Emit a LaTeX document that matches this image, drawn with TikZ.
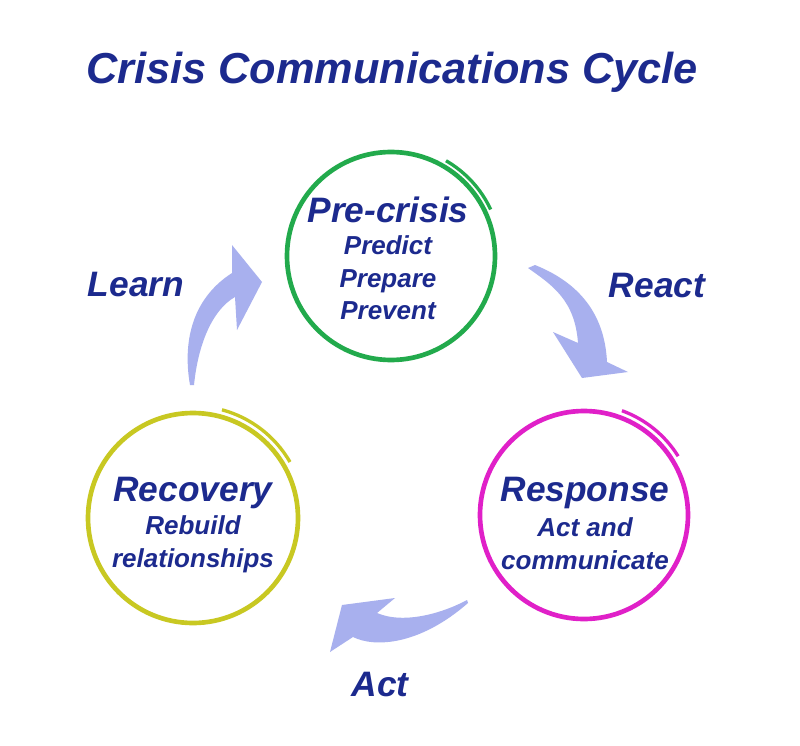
\documentclass[tikz,border=0pt]{standalone}
\usepackage{fontspec}
\usetikzlibrary{calc}
\setmainfont{Liberation Sans}
\begin{document}
\begin{tikzpicture}[x=0.75pt,y=-0.75pt,
  txt/.style={text=tblue,font=\bfseries\itshape,align=center,inner sep=0},
  big/.style={txt,font=\fontsize{26.5}{30}\selectfont\bfseries\itshape},
  small/.style={txt,font=\fontsize{19.5}{24.5}\selectfont\bfseries\itshape},
  ring/.style={line width=3.5pt},
  arr/.style={fill=arrc,draw=none}]
\definecolor{tblue}{HTML}{1C2A8E}
\definecolor{cgreen}{HTML}{22AA4C}
\definecolor{cmag}{HTML}{E020C8}
\definecolor{cyel}{HTML}{C8C822}
\definecolor{arrc}{HTML}{A8B0EE}
\useasboundingbox (0,0) rectangle (800,746);
\fill[white] (0,0) rectangle (800,746);
\node[txt,font=\fontsize{32.5}{38}\selectfont\bfseries\itshape] (title) at (392,72) {Crisis Communications Cycle};
% rings
\coordinate (cg) at (391,256);
\coordinate (cm) at (584,515);
\coordinate (cy) at (193,518);
\draw[ring,cgreen] (cg) circle [radius=104];
\draw[cgreen,line width=2.5pt] ($(cg)+(-60:110)$) arc [start angle=-60,end angle=-25,radius=110];
\draw[ring,cmag] (cm) circle [radius=104];
\draw[cmag,line width=2.5pt] ($(cm)+(-70:111)$) arc [start angle=-70,end angle=-32,radius=111];
\draw[ring,cyel] (cy) circle [radius=105];
\draw[cyel,line width=2.5pt] ($(cy)+(-75:112)$) arc [start angle=-75,end angle=-30,radius=112];
% texts
\node[big] (pre) at (388,210) {Pre-crisis};
\node[small] (pre2) at (388,278) {Predict\\Prepare\\Prevent};
\node[big] (res) at (585,493) {Response};
\node[small] (res2) at (585,544) {Act and\\communicate};
\node[big] (rec) at (193,493) {Recovery};
\node[small] (rec2) at (193,544) {Rebuild\\relationships};
\node[big] (learn) at (136,285) {Learn};
\node[big] (react) at (657,286) {React};
\node[big] (act) at (380,685) {Act};
% arrows
\fill[arr] (190,385) .. controls (183,345) and (190,300) .. (232,273) -- (232,245) -- (262,282) -- (237,330) -- (235,297) .. controls (212,310) and (198,345) .. (194,385) -- cycle;
\fill[arr] (528,268) .. controls (552,285) and (575,300) .. (578,343) -- (553,332) -- (582,378) -- (628,372) -- (607,362) .. controls (605,320) and (585,285) .. (535,265) -- cycle;
\fill[arr] (467,600) .. controls (445,612) and (405,625) .. (377,613) -- (395,598) -- (342,605) -- (330,652) -- (353,637) .. controls (375,648) and (420,645) .. (468,603) -- cycle;
\end{tikzpicture}
\end{document}
